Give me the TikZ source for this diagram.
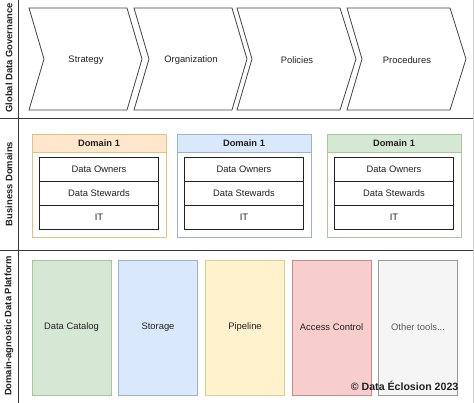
\documentclass[tikz,border=0pt]{standalone}
\usepackage{fontspec}
\setmainfont{Liberation Sans}
\definecolor{orF}{HTML}{FFE6CC}\definecolor{orS}{HTML}{E3C27A}
\definecolor{blF}{HTML}{DAE8FC}\definecolor{blS}{HTML}{9DB2D3}
\definecolor{grF}{HTML}{D5E8D4}\definecolor{grS}{HTML}{A8C89A}
\definecolor{yeF}{HTML}{FFF2CC}\definecolor{yeS}{HTML}{E0CB8A}
\definecolor{reF}{HTML}{F8CECC}\definecolor{reS}{HTML}{C88A88}
\definecolor{gyF}{HTML}{F5F5F5}\definecolor{gyS}{HTML}{9A9A9A}
\definecolor{ink}{HTML}{222222}
\begin{document}
\begin{tikzpicture}[x=1pt,y=-1pt,
  lbl/.style={font=\fontsize{9.4}{11}\selectfont, text=ink},
  lanelbl/.style={font=\bfseries\fontsize{9.4}{11}\selectfont, rotate=90, text=ink},
  chev/.style={draw=ink!85, line width=0.8pt, fill=white, line join=miter},
  hdr/.style={font=\bfseries\fontsize{9.3}{11}\selectfont, text=ink},
  rowbox/.style={draw=ink, line width=0.8pt, fill=white, minimum width=119pt, inner sep=0pt, font=\fontsize{9.4}{11}\selectfont, text=ink},
  tool/.style={line width=0.9pt, minimum width=79pt, minimum height=135pt, inner sep=0pt, font=\fontsize{9.4}{11}\selectfont, text=ink},
  sep/.style={draw=ink!90, line width=0.9pt}]
\useasboundingbox (0,0) rectangle (474,403);
\fill[white] (0,0) rectangle (474,403);

% lane separators
\draw[sep] (0,118) -- (474,118);
\draw[sep] (0,250) -- (474,250);
\draw[sep] (18,0) -- (18,403);
\draw[gray!40, line width=0.8pt] (473,0) -- (473,403);

% lane labels
\node[lanelbl] (lg) at (9,58) {Global Data Governance};
\node[lanelbl] (lb) at (9,184) {Business Domains};
\node[lanelbl] (lp) at (9,326) {Domain-agnostic Data Platform};

% chevrons
\foreach \L/\R/\P/\t/\nm in {29/127/142/Strategy/c1, 134/232/247/Organization/c2, 237/340/356/Policies/c3, 347/450/466/Procedures/c4}{
  \draw[chev] (\L,8) -- (\R,8) -- (\P,59) -- (\R,110) -- (\L,110) -- ({\L+15},59) -- cycle;
  \node[lbl] (\nm) at ({(\L+\P)/2+0.5},60) {\t};
}

% domains
\foreach \X/\F/\S/\nm in {32/orF/orS/d1, 177/blF/blS/d2, 327/grF/grS/d3}{
  \draw[draw=\S, line width=0.9pt, fill=white] (\X,134) rectangle ({\X+134},237);
  \draw[draw=\S, line width=0.9pt, fill=\F] (\X,134) rectangle ({\X+134},152.3);
  \node[hdr] (\nm h) at ({\X+67},143.5) {Domain 1};
  \node[rowbox, minimum height=24pt] (\nm o) at ({\X+67},169.7) {Data Owners};
  \node[rowbox, minimum height=23.6pt] (\nm s) at ({\X+67},193.5) {Data Stewards};
  \node[rowbox, minimum height=23.7pt] (\nm i) at ({\X+67},217.15) {IT};
}

% platform tools
\node[tool, draw=grS, fill=grF] (t1) at (71.5,327.5) {Data Catalog};
\node[tool, draw=blS, fill=blF] (t2) at (158,327.5) {Storage};
\node[tool, draw=yeS, fill=yeF] (t3) at (245,327.5) {Pipeline};
\node[tool, draw=reS, fill=reF] (t4) at (331.5,327.5) {Access Control};
\node[tool, draw=gyS, fill=gyF, text=ink!75] (t5) at (418,327.5) {Other tools...};

% copyright
\node[font=\bfseries\fontsize{10.6}{12}\selectfont, text=ink, anchor=base east, inner sep=0pt] (cp) at (458.5,390) {© Data Éclosion 2023};
\end{tikzpicture}
\end{document}
